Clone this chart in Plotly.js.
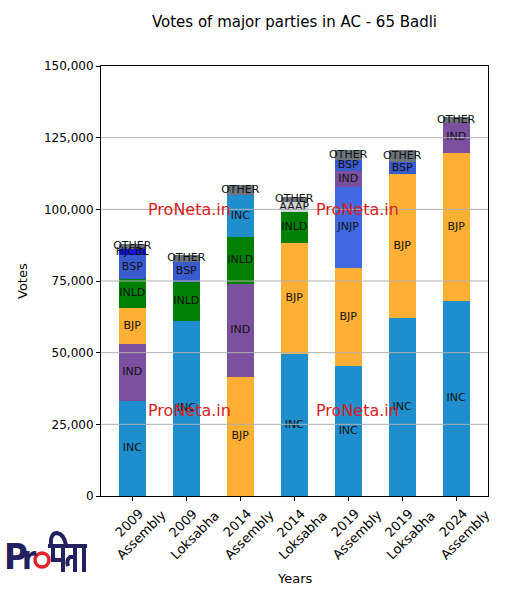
<!DOCTYPE html>
<html>
<head>
<meta charset="utf-8">
<script src="https://cdn.plot.ly/plotly-3.0.1.min.js"></script>
<style>
  html, body { margin: 0; padding: 0; background: #fff; }
  #chart { width: 507px; height: 600px; }
</style>
</head>
<body>
<div id="chart"></div>
<script>
// Election labels on the x axis
const categories = [
  '2009<br>Assembly', '2009<br>Loksabha', '2014<br>Assembly', '2014<br>Loksabha',
  '2019<br>Assembly', '2019<br>Loksabha', '2024<br>Assembly'
];

// Party segments per election, bottom to top
const parties09A = ['INC', 'IND', 'BJP', 'INLD', 'BSP', 'HJCBL', 'OTHER'];
const votes09A   = [33200, 19800, 12700, 10000, 8300, 2300, 1500];
const parties09L = ['INC', 'INLD', 'BSP', 'OTHER'];
const votes09L   = [61000, 13800, 7000, 2200];
const parties14A = ['BJP', 'IND', 'INLD', 'INC', 'OTHER'];
const votes14A   = [41500, 32600, 16200, 14700, 3500];
const parties14L = ['INC', 'BJP', 'INLD', 'AAAP', 'OTHER'];
const votes14L   = [49700, 38600, 10800, 3400, 1900];
const parties19A = ['INC', 'BJP', 'JNJP', 'IND', 'BSP', 'OTHER'];
const votes19A   = [45300, 34200, 28400, 5500, 3800, 3500];
const parties19L = ['INC', 'BJP', 'BSP', 'OTHER'];
const votes19L   = [62100, 50200, 4300, 4100];
const parties24A = ['INC', 'BJP', 'IND', 'OTHER'];
const votes24A   = [68000, 51800, 10400, 2100];

// Y axis ticks
const yTicks = [0, 25000, 50000, 75000, 100000, 125000, 150000];

const partyColors = {
  INC: '#1f8ecd', BJP: '#ffb034', IND: '#7b509e', INLD: '#008000',
  BSP: '#3a5bd0', HJCBL: '#1414ee', JNJP: '#4169e1', AAAP: '#cfd4d8',
  OTHER: '#6c757d'
};

const partyLists = [parties09A, parties09L, parties14A, parties14L, parties19A, parties19L, parties24A];
const voteLists  = [votes09A, votes09L, votes14A, votes14L, votes19A, votes19L, votes24A];

// One bar trace per stacking level, so each election keeps its own order
const traces = [];
const maxLevels = Math.max(...partyLists.map(p => p.length));
for (let k = 0; k < maxLevels; k++) {
  const xs = [], ys = [], cols = [], names = [];
  categories.forEach((c, i) => {
    if (k < partyLists[i].length) {
      xs.push(c);
      ys.push(voteLists[i][k]);
      cols.push(partyColors[partyLists[i][k]]);
      names.push(partyLists[i][k]);
    }
  });
  traces.push({
    type: 'bar', x: xs, y: ys, width: 0.5,
    marker: { color: cols, line: { width: 0 } },
    customdata: names, hovertemplate: '%{customdata}: %{y:,}<extra></extra>',
    showlegend: false
  });
}

// Party names centred in their segments
const lx = [], ly = [], lt = [];
categories.forEach((c, i) => {
  let base = 0;
  voteLists[i].forEach((v, k) => {
    lx.push(c);
    ly.push(base + v / 2);
    lt.push(partyLists[i][k]);
    base += v;
  });
});
traces.push({
  type: 'scatter', mode: 'text', x: lx, y: ly, text: lt,
  textposition: 'middle center',
  textfont: { family: 'DejaVu Sans', size: 11, color: '#111' },
  hoverinfo: 'skip', showlegend: false
});

// Plot area geometry (pixels) for placing decorations
const M = { l: 101, r: 19, t: 66, b: 104 };
const W = 507, H = 600;
const pw = W - M.l - M.r, ph = H - M.t - M.b;
const px = x => (x - M.l) / pw;
const py = y => (H - M.b - y) / ph;
const P = (x, y) => px(x).toFixed(4) + ',' + py(y).toFixed(4);

const navy = '#22205e';
const shapes = [];

// Horizontal grid drawn over the bars
yTicks.slice(1, -1).forEach(v => {
  shapes.push({
    type: 'line', xref: 'paper', yref: 'y', x0: 0, x1: 1, y0: v, y1: v,
    line: { color: '#b0b0b0', width: 1 }, layer: 'above'
  });
});

// Logo: red ring and Devanagari strokes
shapes.push({
  type: 'circle', xref: 'paper', yref: 'paper',
  x0: px(35), x1: px(49), y0: py(567), y1: py(553),
  line: { color: '#e3232b', width: 3.4 }, fillcolor: 'rgba(0,0,0,0)', layer: 'above'
});
const strokes = [
  'M' + P(48, 546) + ' L' + P(87, 546),
  'M' + P(51, 546) + ' Q' + P(50, 533) + ' ' + P(57, 533) + ' Q' + P(64, 534) + ' ' + P(66, 545),
  'M' + P(53, 546) + ' L' + P(53, 560) + ' L' + P(63, 560),
  'M' + P(63, 546) + ' L' + P(63, 572),
  'M' + P(75, 546) + ' L' + P(75, 572),
  'M' + P(75, 557) + ' L' + P(70, 557) + ' Q' + P(66, 560) + ' ' + P(68, 566),
  'M' + P(84, 546) + ' L' + P(84, 572)
];
strokes.forEach(d => shapes.push({
  type: 'path', xref: 'paper', yref: 'paper', path: d,
  line: { color: navy, width: 4 }, layer: 'above'
}));

const watermark = (x, y) => ({
  text: 'ProNeta.in', xref: 'paper', yref: 'y', x: x, y: y,
  showarrow: false, xanchor: 'center', yanchor: 'middle',
  font: { family: 'DejaVu Sans', size: 16, color: '#d81e1e' }
});

const logoLetter = (t, x, size) => ({
  text: '<b>' + t + '</b>', xref: 'paper', yref: 'paper',
  x: px(x), y: py(579), xanchor: 'center', yanchor: 'bottom',
  showarrow: false,
  font: { family: 'DejaVu Sans Condensed, DejaVu Sans', size: size, color: navy }
});

// Rotated category labels, centred below each tick
const tickLabels = categories.map(c => ({
  text: c, xref: 'x', yref: 'paper', x: c, y: py(529), xshift: 3,
  xanchor: 'center', yanchor: 'middle', textangle: -45, showarrow: false,
  align: 'center',
  font: { family: 'DejaVu Sans', size: 13, color: '#000' }
}));

const layout = {
  width: W, height: H,
  margin: M,
  paper_bgcolor: '#fff', plot_bgcolor: '#fff',
  font: { family: 'DejaVu Sans', color: '#000' },
  barmode: 'stack',
  title: {
    text: 'Votes of major parties in AC - 65 Badli',
    font: { family: 'DejaVu Sans', size: 15, color: '#000' },
    x: 0.5, xref: 'paper', xanchor: 'center',
    y: 1 - 22 / H, yref: 'container', yanchor: 'middle'
  },
  xaxis: {
    type: 'category', categoryorder: 'array', categoryarray: categories,
    range: [-0.58, 6.59], showticklabels: false,
    ticks: 'outside', ticklen: 4, tickcolor: '#000',
    showline: true, mirror: true, linecolor: '#000', linewidth: 1,
    showgrid: false, zeroline: false
  },
  yaxis: {
    range: [0, 150000], tickvals: yTicks, tickformat: ',d',
    ticks: 'outside', ticklen: 4, tickcolor: '#000',
    tickfont: { family: 'DejaVu Sans', size: 12, color: '#000' },
    showline: true, mirror: true, linecolor: '#000', linewidth: 1,
    showgrid: false, zeroline: false
  },
  shapes: shapes,
  annotations: [
    // axis titles
    {
      text: 'Years', xref: 'paper', yref: 'paper', x: 0.5, y: py(578),
      xanchor: 'center', yanchor: 'middle', showarrow: false,
      font: { family: 'DejaVu Sans', size: 13, color: '#000' }
    },
    {
      text: 'Votes', xref: 'paper', yref: 'paper', x: px(22), y: 0.5,
      xanchor: 'center', yanchor: 'middle', textangle: -90, showarrow: false,
      font: { family: 'DejaVu Sans', size: 13, color: '#000' }
    },
    ...tickLabels,
    watermark(px(189), 100000), watermark(px(357), 100000),
    watermark(px(189), 30000), watermark(px(357), 30000),
    logoLetter('P', 16, 36), logoLetter('r', 29, 32)
  ]
};

Plotly.newPlot('chart', traces, layout, { displayModeBar: false, staticPlot: true });
</script>
</body>
</html>
